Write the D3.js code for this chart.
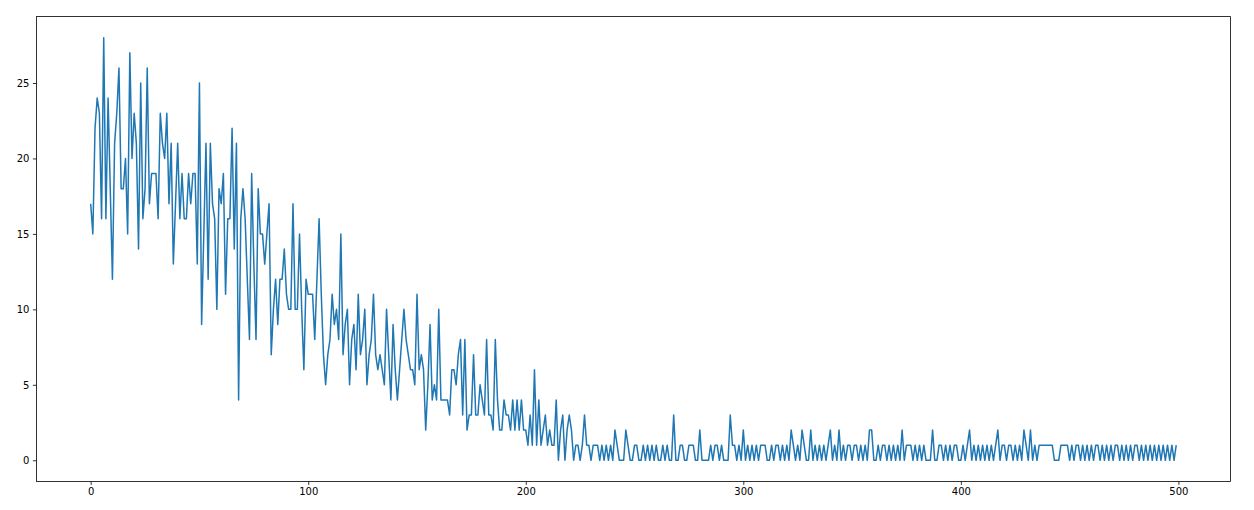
<!DOCTYPE html>
<html>
<head>
<meta charset="utf-8">
<script src="https://cdn.jsdelivr.net/npm/d3@7"></script>
<style>
  body { margin: 0; background: #fff; }
  svg { display: block; }
  .tick text { font-family: "DejaVu Sans", sans-serif; font-size: 10px; fill: #000; }
  .tick line { stroke: #000; stroke-width: 0.8; }
</style>
</head>
<body>
<svg width="1254" height="510"></svg>
<script>
// counts per step (index = x value)
const counts = [
  17,15,22,24,23,16,28,16,24,18,12,21,23,26,18,18,20,15,27,20,
  23,21,14,25,16,18,26,17,19,19,19,16,23,21,20,23,17,21,13,17,
  21,16,19,16,16,19,17,19,19,13,25,9,15,21,12,21,17,16,10,18,
  17,19,11,16,16,22,14,21,4,16,18,16,12,8,19,13,8,18,15,15,
  13,15,17,7,10,12,9,12,12,14,11,10,10,17,10,10,15,10,6,12,
  11,11,11,8,12,16,11,7,5,7,8,11,9,10,8,15,7,9,10,5,
  8,9,6,11,7,8,10,5,7,8,11,7,6,7,6,5,10,7,4,9,
  6,4,6,8,10,8,7,6,6,5,11,6,7,6,2,5,9,4,5,4,
  10,4,4,4,4,3,6,6,5,7,8,3,8,2,3,3,7,3,3,5,
  4,3,8,3,3,2,8,4,2,2,4,3,3,2,4,2,4,2,4,2,
  2,1,3,1,6,1,4,1,2,3,1,2,1,1,4,0,2,3,0,2,
  3,2,0,1,1,0,1,3,1,1,0,1,1,1,0,1,0,1,0,1,
  0,2,1,0,0,0,2,1,0,0,1,1,0,0,1,0,1,0,1,0,
  1,0,0,1,0,1,0,0,3,0,0,1,1,0,0,1,1,1,0,0,
  2,0,0,0,0,1,0,1,1,0,1,0,0,0,3,1,1,0,1,0,
  2,0,1,0,1,0,1,0,1,1,1,0,0,1,0,1,1,0,1,0,
  1,0,2,1,0,1,0,2,1,0,0,2,0,1,0,1,0,1,0,1,
  2,0,1,0,2,0,1,0,1,1,0,1,1,0,1,0,1,0,2,2,
  0,0,1,0,1,1,0,1,0,1,0,1,0,2,0,1,1,1,0,1,
  0,1,0,1,0,0,0,2,0,0,1,1,0,1,0,1,0,1,1,0,
  0,1,0,1,2,0,1,0,1,0,1,0,1,0,1,0,1,2,0,1,
  1,0,1,1,0,1,0,1,0,2,1,0,2,0,1,0,1,1,1,1,
  1,1,1,0,0,0,1,1,1,1,0,1,0,1,1,0,1,0,1,0,
  1,0,1,1,0,1,0,1,0,1,0,1,1,0,1,0,1,0,1,0,
  1,1,0,1,0,1,0,1,0,1,0,1,0,1,0,1,0,1,0,1
];
const xTicks = [0, 100, 200, 300, 400, 500];
const yTicks = [0, 5, 10, 15, 20, 25];

const svg = d3.select("svg"),
      margin = {top: 16.6, right: 23.5, bottom: 28.6, left: 36.4},
      width = +svg.attr("width") - margin.left - margin.right,
      height = +svg.attr("height") - margin.top - margin.bottom,
      g = svg.append("g").attr("transform", `translate(${margin.left},${margin.top})`);

// matplotlib style 5% margins around the data
const n = counts.length - 1,
      yMax = d3.max(counts);
const x = d3.scaleLinear()
  .domain([-0.05 * n, n * 1.05])
  .range([0, width]);
const y = d3.scaleLinear()
  .domain([-0.05 * yMax, yMax * 1.05])
  .range([height, 0]);

g.append("path")
  .datum(counts)
  .attr("fill", "none")
  .attr("stroke", "#1f77b4")
  .attr("stroke-width", 1.5)
  .attr("stroke-linejoin", "round")
  .attr("d", d3.line().x((d, i) => x(i)).y(d => y(d)));

g.append("g")
  .attr("transform", `translate(0,${height})`)
  .call(d3.axisBottom(x).tickValues(xTicks).tickSize(3.5).tickPadding(3.5).tickSizeOuter(0))
  .call(a => a.select(".domain").remove());

g.append("g")
  .call(d3.axisLeft(y).tickValues(yTicks).tickSize(3.5).tickPadding(3.5).tickSizeOuter(0))
  .call(a => a.select(".domain").remove());

// frame (spines)
g.append("rect")
  .attr("width", width)
  .attr("height", height)
  .attr("fill", "none")
  .attr("stroke", "#000")
  .attr("stroke-width", 0.8);
</script>
</body>
</html>
